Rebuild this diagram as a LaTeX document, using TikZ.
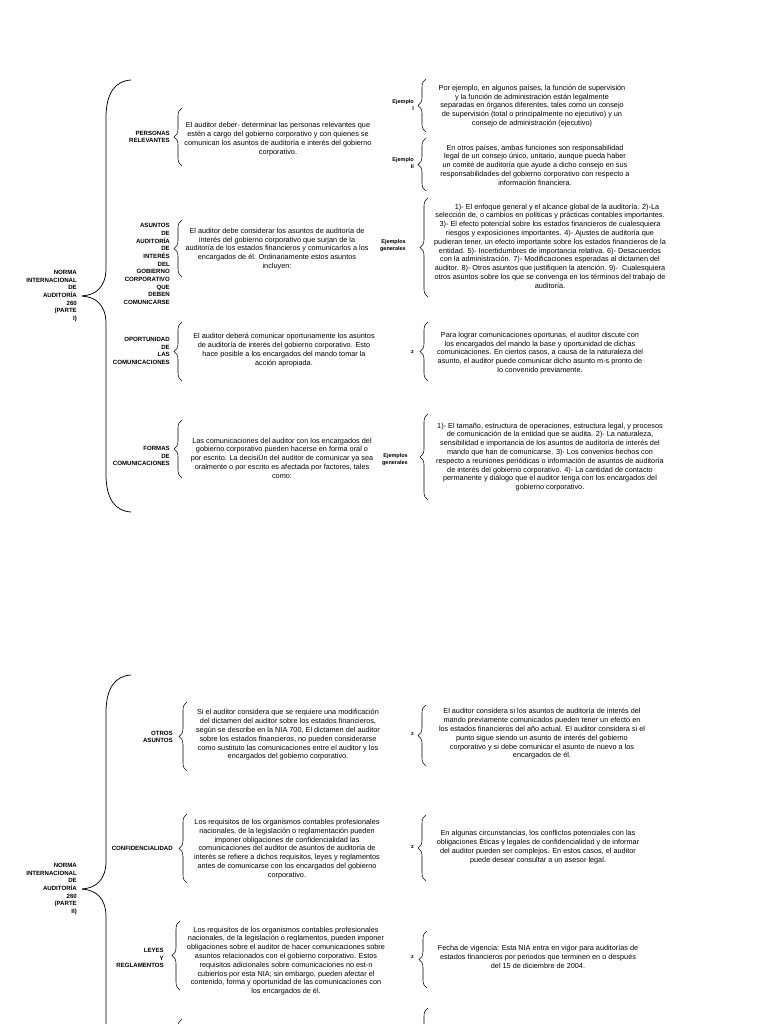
\documentclass[tikz,border=0pt]{standalone}
\usepackage{fontspec}
\setmainfont{Liberation Sans}
\usetikzlibrary{decorations.pathreplacing}

\begin{document}
\begin{tikzpicture}[x=1pt,y=-1pt,
    lbl/.style={font=\bfseries\fontsize{6.1}{7.7}\selectfont,align=right,anchor=east,inner sep=0pt},
    ejlbl/.style={font=\bfseries\fontsize{5.5}{7}\selectfont,align=right,anchor=east,inner sep=0pt},
    txt/.style={font=\fontsize{7.3}{8.8}\selectfont,align=center,inner sep=0pt},
    brc/.style={decorate,decoration={brace,amplitude=8pt},line width=.55pt},
    bigbrc/.style={line width=.75pt}]
  \useasboundingbox (0,0) rectangle (768,1024);
  \clip (0,0) rectangle (768,1024);

  % parte I
  \node[lbl] (nia1) at (77,296) {NORMA\\INTERNACIONAL\\DE\\AUDITORÍA\\260\\(PARTE\\I)};
  \coordinate (tip1) at ([xshift=5pt]nia1.east);
  \draw[bigbrc] (tip1) .. controls (96,295) and (106,287) .. (106,268) -- (106,118) .. controls (106,93) and (115,81) .. (131,80);
  \draw[bigbrc] (tip1) .. controls (96,297) and (106,305) .. (106,324) -- (106,474) .. controls (106,499) and (115,511) .. (131,512);

  \node[lbl] (pers) at (170,137) {PERSONAS\\RELEVANTES};
  \node[txt] (persTxt) at (278,139) {El auditor deber- determinar las personas relevantes que\\estén a cargo del gobierno corporativo y con quienes se\\comunican los asuntos de auditoría e interés del gobierno\\corporativo.};
  \draw[brc] (182,166) -- (182,108);

  \node[lbl] (asun) at (170,264) {ASUNTOS\\DE\\AUDITORÍA\\DE\\INTERÉS\\DEL\\GOBIERNO\\CORPORATIVO\\QUE\\DEBEN\\COMUNICARSE};
  \node[txt] (asunTxt) at (277,249) {El auditor debe considerar los asuntos de auditoría de\\interés del gobierno corporativo que surjan de la\\auditoría de los estados financieros y comunicarlos a los\\encargados de él. Ordinariamente estos asuntos\\incluyen:};
  \draw[brc] (182,277) -- (182,220);

  \node[ejlbl] (ej1) at (414,105) {Ejemplo\\I};
  \node[txt] (ej1Txt) at (532,106) {Por ejemplo, en algunos países, la función de supervisión\\y la función de administración están legalmente\\separadas en órganos diferentes, tales como un consejo\\de supervisión (total o principalmente no ejecutivo) y un\\consejo de administración (ejecutivo)};
  \draw[brc] (426,132) -- (426,79);

  \node[ejlbl] (ej2) at (414,163) {Ejemplo\\II};
  \node[txt] (ej2Txt) at (535,165) {En otros países, ambas funciones son responsabilidad\\legal de un consejo único, unitario, aunque pueda haber\\un comité de auditoría que ayude a dicho consejo en sus\\responsabilidades del gobierno corporativo con respecto a\\información financiera.};
  \draw[brc] (426,191) -- (426,138);

  \node[ejlbl] (gen1) at (406,246) {Ejemplos\\generales};
  \node[txt] (gen1Txt) at (550,246) {\hspace*{14pt}1)- El enfoque general y el alcance global de la auditoría. 2)-La\\selección de, o cambios en políticas y prácticas contables importantes.\\3)- El efecto potencial sobre los estados financieros de cualesquiera\\riesgos y exposiciones importantes. 4)- Ajustes de auditoría que\\pudieran tener, un efecto importante sobre los estados financieros de la\\entidad. 5)- Incertidumbres de importancia relativa. 6)- Desacuerdos\\con la administración. 7)- Modificaciones esperadas al dictamen del\\auditor. 8)- Otros asuntos que justifiquen la atención. 9)-\ \ Cualesquiera\\otros asuntos sobre los que se convenga en los términos del trabajo de\\auditoría.};
  \draw[brc] (428,297) -- (428,198);

  \node[lbl] (opor) at (170,351) {OPORTUNIDAD\\DE\\LAS\\COMUNICACIONES};
  \node[txt] (oporTxt) at (284,350) {El auditor deberá comunicar oportunamente los asuntos\\de auditoría de interés del gobierno corporativo. Esto\\hace posible a los encargados del mando tomar la\\acción apropiada.};
  \draw[brc] (182,381) -- (182,322);

  \node[ejlbl] (z1) at (414,352) {z};
  \node[txt] (z1Txt) at (540,353) {Para lograr comunicaciones oportunas, el auditor discute con\\los encargados del mando la base y oportunidad de dichas\\comunicaciones. En ciertos casos, a causa de la naturaleza del\\asunto, el auditor puede comunicar dicho asunto m-s pronto de\\lo convenido previamente.};
  \draw[brc] (428,381) -- (428,322);

  \node[lbl] (form) at (170,456) {FORMAS\\DE\\COMUNICACIONES};
  \node[txt] (formTxt) at (282,458) {Las comunicaciones del auditor con los encargados del\\gobierno corporativo pueden hacerse en forma oral o\\por escrito. La decisiÚn del auditor de comunicar ya sea\\oralmente o por escrito es afectada por factores, tales\\como:};
  \draw[brc] (182,478) -- (182,420);

  \node[ejlbl] (gen2) at (408,460) {Ejemplos\\generales};
  \node[txt] (gen2Txt) at (550,457) {1)- El tamaño, estructura de operaciones, estructura legal, y procesos\\de comunicación de la entidad que se audita. 2)- La naturaleza,\\sensibilidad e importancia de los asuntos de auditoría de interés del\\mando que han de comunicarse. 3)- Los convenios hechos con\\respecto a reuniones periódicas o información de asuntos de auditoría\\de interés del gobierno corporativo. 4)- La cantidad de contacto\\permanente y diálogo que el auditor tenga con los encargados del\\gobierno corporativo.};
  \draw[brc] (428,500) -- (428,414);

  % parte II
  \node[lbl] (nia2) at (77,889) {NORMA\\INTERNACIONAL\\DE\\AUDITORÍA\\260\\(PARTE\\II)};
  \coordinate (tip2) at ([xshift=5pt]nia2.east);
  \draw[bigbrc] (tip2) .. controls (96,888) and (106,880) .. (106,861) -- (106,713) .. controls (106,688) and (115,676) .. (131,675);
  \draw[bigbrc] (tip2) .. controls (96,890) and (106,898) .. (106,917) -- (106,1040);

  \node[lbl] (otros) at (173,737) {OTROS\\ASUNTOS};
  \node[txt] (otrosTxt) at (288,735) {Si el auditor considera que se requiere una modificación\\del dictamen del auditor sobre los estados financieros,\\según se describe en la NIA 700, El dictamen del auditor\\sobre los estados financieros, no pueden considerarse\\como sustituto las comunicaciones entre el auditor y los\\encargados del gobierno corporativo.};
  \draw[brc] (187,771) -- (187,702);

  \node[ejlbl] (z2) at (414,734) {z};
  \node[txt] (z2Txt) at (542,734) {El auditor considera si los asuntos de auditoría de interés del\\mando previamente comunicados pueden tener un efecto en\\los estados financieros del año actual. El auditor considera si el\\punto sigue siendo un asunto de interés del gobierno\\corporativo y si debe comunicar el asunto de nuevo a los\\encargados de él.};
  \draw[brc] (426,766) -- (426,705);

  \node[lbl] (conf) at (173,848) {CONFIDENCIALIDAD};
  \node[txt] (confTxt) at (287,849) {Los requisitos de los organismos contables profesionales\\nacionales, de la legislación o reglamentación pueden\\imponer obligaciones de confidencialidad las\\comunicaciones del auditor de asuntos de auditoría de\\interés se refiere a dichos requisitos, leyes y reglamentos\\antes de comunicarse con los encargados del gobierno\\corporativo.};
  \draw[brc] (187,883) -- (187,814);

  \node[ejlbl] (z3) at (414,847) {z};
  \node[txt] (z3Txt) at (538,847) {En algunas circunstancias, los conflictos potenciales con las\\obligaciones Éticas y legales de confidencialidad y de informar\\del auditor pueden ser complejos. En estos casos, el auditor\\puede desear consultar a un asesor legal.};
  \draw[brc] (426,881) -- (426,815);

  \node[lbl] (leyes) at (164,958) {LEYES\\Y\\REGLAMENTOS};
  \node[txt] (leyesTxt) at (286,961) {Los requisitos de los organismos contables profesionales\\nacionales, de la legislación o reglamentos, pueden imponer\\obligaciones sobre el auditor de hacer comunicaciones sobre\\asuntos relacionados con el gobierno corporativo. Estos\\requisitos adicionales sobre comunicaciones no est-n\\cubiertos por esta NIA; sin embargo, pueden afectar el\\contenido, forma y oportunidad de las comunicaciones con\\los encargados de él.};
  \draw[brc] (180,990) -- (180,921);

  \node[ejlbl] (z4) at (414,957) {z};
  \node[txt] (z4Txt) at (538,957) {Fecha de vigencia: Esta NIA entra en vigor para auditorías de\\estados financieros por periodos que terminen en o después\\del 15 de diciembre de 2004.};
  \draw[brc] (427,988) -- (427,931);

  % llaves cortadas abajo
  \draw[brc] (182,1090) -- (182,1019);
  \draw[brc] (428,1080) -- (428,1008);
\end{tikzpicture}
\end{document}
